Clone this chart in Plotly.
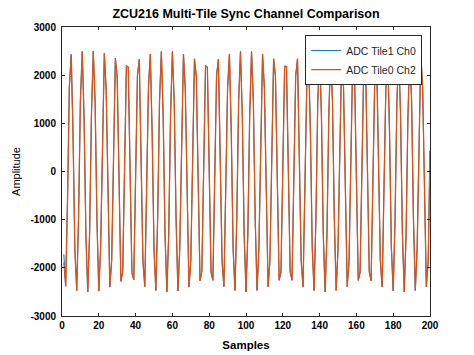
import plotly.graph_objects as go

# Sample index (MATLAB-style, 1..200)
samples = list(range(1, 201))

# ADC Tile0 Ch2 (orange, drawn on top)
tile0_ch2 = [
    -1890, -2380, -600, 1760, 2430, 770, -1630, -2470, -950, 1480, 2490, 1110, -1330, -2500, -1280, 1170, 2500, 1430, -1010, -2480, -1580, 840, 2450, 1710, -660, -2400, -1840, 480, 2350, 1960, -300, -2280, -2070, 120, 2190, 2170, 70, -2100, -2250, -250, 1990, 2330, 430,
    -1880, -2390, -610, 1750, 2440, 790, -1610, -2470, -960, 1470, 2490, 1130, -1320, -2500, -1290, 1160, 2490, 1440, -990, -2480, -1590, 820, 2440, 1720, -650, -2400, -1850, 470, 2340, 1970, -290, -2270, -2080, 100, 2190, 2170, 80, -2090, -2260, -260, 1990, 2330, 440,
    -1870, -2390, -620, 1740, 2440, 800, -1600, -2470, -970, 1460, 2490, 1140, -1310, -2500, -1300, 1150, 2490, 1450, -980, -2470, -1600, 810, 2440, 1730, -630, -2390, -1860, 450, 2340, 1980, -270, -2260, -2090, 90, 2180, 2180, 90, -2080, -2260, -280, 1980, 2340, 460,
    -1860, -2400, -640, 1730, 2440, 810, -1590, -2470, -980, 1450, 2490, 1150, -1300, -2500, -1310, 1140, 2490, 1460, -970, -2470, -1610, 800, 2440, 1740, -620, -2390, -1870, 440, 2330, 1990, -260, -2260, -2090, 80, 2170, 2190, 110, -2080, -2270, -290, 1970, 2340, 470,
    -1850, -2400, -650, 1720, 2440, 820, -1580, -2480, -1000, 1440, 2500, 1160, -1280, -2500, -1320, 1120, 2490, 1470, -960, -2470, -1620, 780, 2440, 1750, -610, -2390, -1880, 430,
]

# ADC Tile1 Ch0 (blue, almost entirely hidden underneath)
tile1_ch0 = [
    -1720, -2380, -600, 1760, 2430, 770, -1630, -2470, -950, 1480, 2490, 1110, -1330, -2500, -1280, 1170, 2500, 1430, -1010, -2480, -1580, 840, 2450, 1710, -660, -2400, -1840, 480, 2350, 1960, -300, -2280, -2070, 120, 2200, 2160, 70, -2100, -2250, -250, 1990, 2330, 430,
    -1880, -2390, -610, 1750, 2440, 790, -1610, -2470, -960, 1470, 2490, 1130, -1320, -2500, -1290, 1160, 2490, 1440, -990, -2480, -1590, 820, 2440, 1720, -650, -2400, -1850, 470, 2340, 1970, -290, -2270, -2080, 100, 2200, 2160, 80, -2090, -2260, -260, 1990, 2330, 440,
    -1870, -2390, -620, 1740, 2440, 800, -1600, -2470, -970, 1460, 2490, 1140, -1310, -2500, -1300, 1150, 2490, 1450, -980, -2470, -1600, 810, 2440, 1730, -630, -2390, -1860, 450, 2340, 1980, -270, -2260, -2090, 90, 2190, 2170, 90, -2080, -2260, -280, 1980, 2340, 460,
    -1860, -2400, -640, 1730, 2440, 810, -1590, -2470, -980, 1450, 2490, 1150, -1300, -2500, -1310, 1140, 2490, 1460, -970, -2470, -1610, 800, 2440, 1740, -620, -2390, -1870, 440, 2330, 1990, -260, -2260, -2090, 80, 2180, 2180, 110, -2080, -2270, -290, 1970, 2340, 470,
    -1850, -2400, -650, 1720, 2440, 820, -1580, -2480, -1000, 1440, 2500, 1160, -1280, -2500, -1320, 1120, 2490, 1470, -960, -2470, -1620, 780, 2440, 1750, -610, -2390, -1880, 430,
]

x_ticks = [0, 20, 40, 60, 80, 100, 120, 140, 160, 180, 200]
x_tick_labels = ["0", "20", "40", "60", "80", "100", "120", "140", "160", "180", "200"]
y_ticks = [-3000, -2000, -1000, 0, 1000, 2000, 3000]
y_tick_labels = ["-3000", "-2000", "-1000", "0", "1000", "2000", "3000"]

FONT = "Liberation Sans, Arial, sans-serif"
AXIS = "#262626"

fig = go.Figure()
fig.add_trace(go.Scatter(x=samples, y=tile1_ch0, mode="lines", name="ADC Tile1 Ch0",
                         line=dict(color="#0072BD", width=1)))
fig.add_trace(go.Scatter(x=samples, y=tile0_ch2, mode="lines", name="ADC Tile0 Ch2",
                         line=dict(color="#D95319", width=1.3)))

axis_common = dict(showline=True, linecolor=AXIS, linewidth=1, mirror="ticks",
                   ticks="inside", ticklen=3, tickcolor=AXIS, showgrid=False,
                   zeroline=False, automargin=False,
                   tickfont=dict(family=FONT, size=10, color="#000000", weight="bold"))

fig.update_layout(
    width=474, height=355,
    paper_bgcolor="white", plot_bgcolor="white",
    margin=dict(l=54, r=52, t=19, b=47),
    font=dict(family=FONT, color="#000000"),
    title=dict(text="ZCU216 Multi-Tile Sync Channel Comparison",
               font=dict(family=FONT, size=12.5, color="#000000", weight="bold"),
               xref="paper", x=0.5, xanchor="center", y=0.983, yanchor="middle"),
    xaxis=dict(range=[0, 200], tickvals=x_ticks, ticktext=x_tick_labels,
               title=dict(text="Samples", standoff=10,
                          font=dict(family=FONT, size=11.5, color="#000000", weight="bold")),
               **axis_common),
    yaxis=dict(range=[-3000, 3000], tickvals=y_ticks, ticktext=y_tick_labels,
               ticklabelstandoff=3,
               title=dict(text="Amplitude", standoff=7,
                          font=dict(family=FONT, size=11, color="#000000")),
               **axis_common),
    legend=dict(x=0.979, y=0.972, xanchor="right", yanchor="top",
                bgcolor="white", bordercolor=AXIS, borderwidth=1,
                font=dict(family=FONT, size=10.5, color="#262626"),
                itemwidth=30, tracegroupgap=0),
    showlegend=True,
)

fig.write_html("out.html")
